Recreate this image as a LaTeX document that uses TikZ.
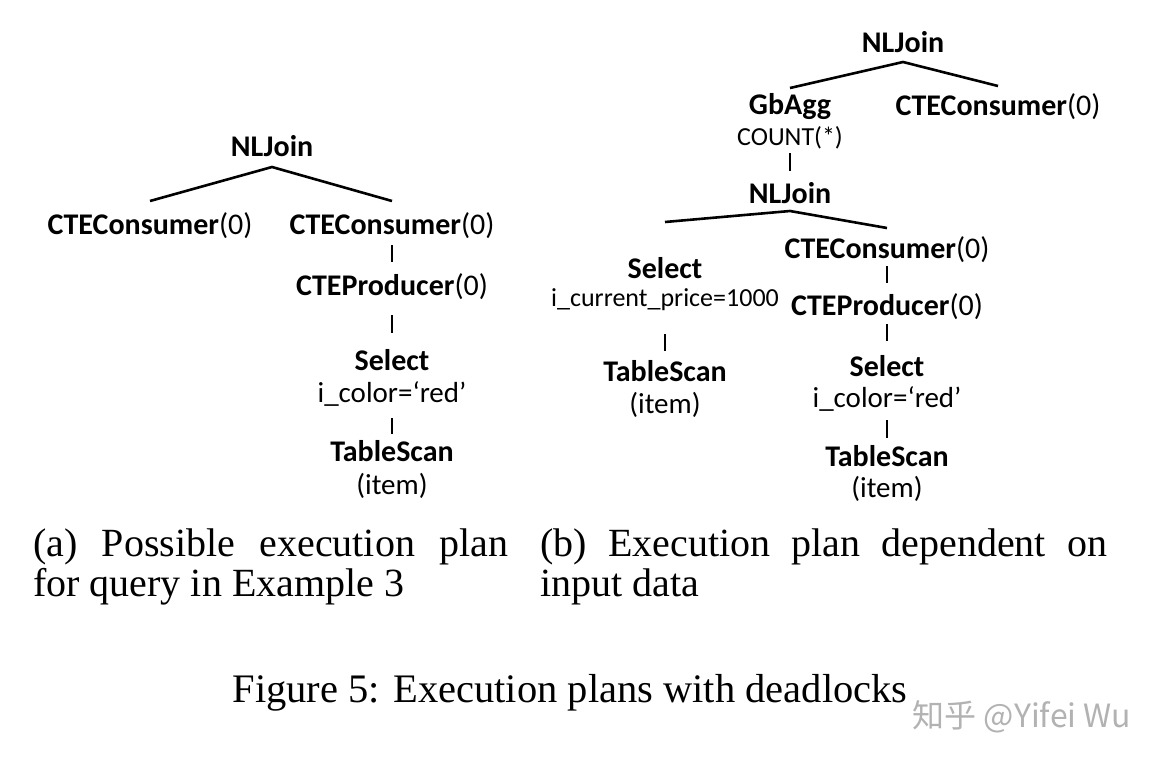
\documentclass[tikz,border=0pt]{standalone}
\usepackage{fontspec}
\setmainfont{Liberation Serif}
\newfontfamily\lab{Carlito}
\newfontfamily\cjk{Noto Sans CJK SC}
\begin{document}
\begin{tikzpicture}[x=1pt,y=-1pt,
  op/.style={font=\lab\fontsize{30}{32}\selectfont\bfseries,inner sep=0pt},
  arg/.style={font=\lab\fontsize{29}{32}\selectfont,inner sep=0pt},
  sm/.style={font=\lab\fontsize{26}{28}\selectfont,inner sep=0pt},
  edge/.style={line width=2.6pt},
  cap/.style={font=\fontsize{40}{40}\selectfont,inner sep=0pt,anchor=north west,text width=#1,align=justify}]
\useasboundingbox (0,0) rectangle (1174,766);
% (a)
\node[op] (aj) at (272,146) {NLJoin};
\coordinate (ajb) at (272,167);
\node[op] (ac1) at (150,226) {CTEConsumer\mdseries(0)};
\node[op] (ac2) at (392,226) {CTEConsumer\mdseries(0)};
\node[op] (ap) at (392,287) {CTEProducer\mdseries(0)};
\node[op] (as) at (392,360) {Select};
\node[arg] (asa) at (392,394) {i\_color=‘red’};
\node[op] (at) at (392,451) {TableScan};
\node[arg] (ata) at (392,486) {(item)};
\draw[edge] (150,201) -- (ajb) -- (392,201);
\draw[edge] (392,245) -- (392,262);
\draw[edge] (392,315) -- (392,333);
\draw[edge] (392,418) -- (392,434);
% (b)
\node[op] (bj) at (903,42) {NLJoin};
\coordinate (bjb) at (903,62);
\node[op] (bg) at (790,107) {GbAgg};
\node[sm] (bga) at (790,138) {COUNT(*)};
\node[op] (bc0) at (998,107) {CTEConsumer\mdseries(0)};
\node[op] (bj2) at (790,193) {NLJoin};
\coordinate (bj2b) at (790,211);
\node[op] (bs) at (665,268) {Select};
\node[sm] (bsa) at (665,300) {i\_current\_price=1000};
\node[op] (bt) at (665,371) {TableScan};
\node[arg] (bta) at (665,405) {(item)};
\node[op] (bc) at (887,250) {CTEConsumer\mdseries(0)};
\node[op] (bp) at (887,307) {CTEProducer\mdseries(0)};
\node[op] (bs2) at (887,366) {Select};
\node[arg] (bs2a) at (887,399) {i\_color=‘red’};
\node[op] (bt2) at (887,456) {TableScan};
\node[arg] (bt2a) at (887,489) {(item)};
\draw[edge] (790,88) -- (bjb) -- (998,86);
\draw[edge] (790,153) -- (790,171);
\draw[edge] (665,222) -- (bj2b) -- (887,228);
\draw[edge] (665,334) -- (665,351);
\draw[edge] (887,266) -- (887,283);
\draw[edge] (887,324) -- (887,341);
\draw[edge] (887,420) -- (887,438);
% captions
\node[cap=475pt] (ca) at (33,529) {\hyphenpenalty=10000 (a) Possible execution plan\linebreak for query in Example 3};
\node[cap=567pt] (cb) at (540,529) {\hyphenpenalty=10000 (b) Execution plan dependent on\linebreak input data};
\node[font=\fontsize{40.5}{42}\selectfont,inner sep=0pt] (fig) at (570,693) {Figure 5: Execution plans with deadlocks};
\node[font=\cjk\fontsize{32}{34}\selectfont,text=black!30,inner sep=0pt] (wm) at (1022,717) {知乎 @Yifei Wu};
\end{tikzpicture}
\end{document}
